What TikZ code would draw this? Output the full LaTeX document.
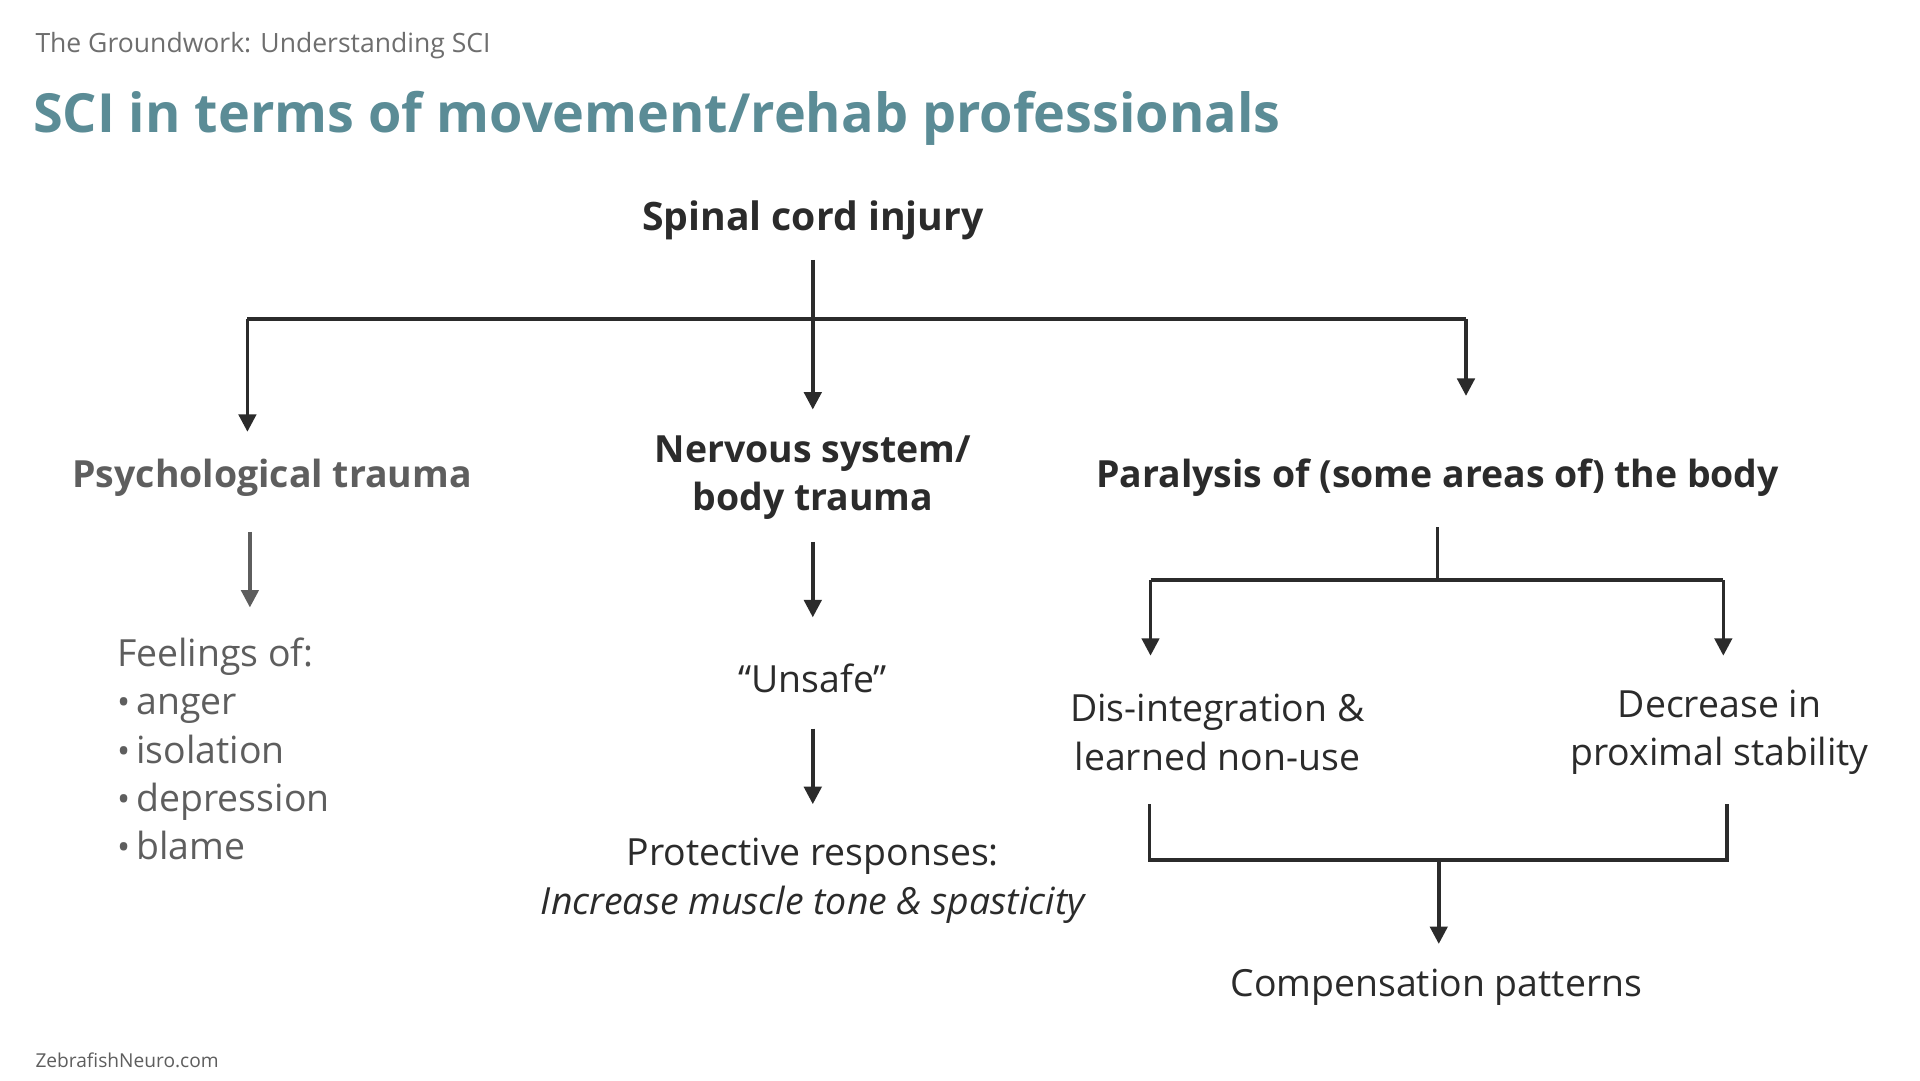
\documentclass[tikz,border=0pt]{standalone}
\usepackage{fontspec}
\setmainfont{Open Sans}
\usetikzlibrary{arrows.meta}
\definecolor{teal}{HTML}{5B8C96}
\definecolor{dark}{HTML}{2B2B2B}
\definecolor{mid}{HTML}{5E5E5E}
\begin{document}
\begin{tikzpicture}[x=0.01cm,y=-0.01cm,
  lbl/.style={inner sep=0pt,align=center,font=\fontsize{8.6pt}{11.1pt}\selectfont,text=dark},
  bold/.style={lbl,font=\fontsize{8.6pt}{11.1pt}\selectfont\bfseries},
  con/.style={draw=dark,line width=0.8pt},
  arr/.style={con,-{Triangle[length=4pt,width=4pt]}}]
\useasboundingbox[fill=white] (0,0) rectangle (1552,873);
\node[anchor=west,inner sep=0pt,text=mid!90,font=\fontsize{6.1pt}{7pt}\selectfont] (hdr) at (28,37) {The Groundwork: Understanding SCI};
\node[anchor=west,inner sep=0pt,text=teal,font=\fontsize{12.4pt}{15pt}\selectfont\bfseries] (title) at (26,96) {SCI in terms of movement/rehab professionals};
\node[bold,font=\fontsize{9pt}{11pt}\selectfont\bfseries] (sci) at (657,178) {Spinal cord injury};
\node[bold,text=mid] (psy) at (220,386) {Psychological trauma};
\node[lbl,text=mid,anchor=north west,align=left] (feel) at (94,515) {Feelings of:\\{\footnotesize\textbullet}\,anger\\{\footnotesize\textbullet}\,isolation\\{\footnotesize\textbullet}\,depression\\{\footnotesize\textbullet}\,blame};
\node[bold] (ner) at (657,386) {Nervous system/\\body trauma};
\node[lbl] (uns) at (657,548) {“Unsafe”};
\node[lbl] (pro) at (657,712) {Protective responses:\\\itshape Increase muscle tone \& spasticity};
\node[bold] (par) at (1162,386) {Paralysis of (some areas of) the body};
\node[lbl] (dis) at (984,592) {Dis-integration \&\\learned non-use};
\node[lbl] (dec) at (1390,592) {Decrease in\\proximal stability};
\node[lbl] (comp) at (1161,798) {Compensation patterns};
\node[anchor=west,inner sep=0pt,text=mid,font=\fontsize{4.4pt}{5pt}\selectfont] (foot) at (28,857) {ZebrafishNeuro.com};
% top tree
\coordinate (j0) at (657,258);
\coordinate (jl) at (200,258); \coordinate (jr) at (1185,258);
\coordinate (tl) at (200,349); \coordinate (tm) at (657,331); \coordinate (tr) at (1185,320);
\draw[arr] (sci.south |- 0,210) -- (tm);
\draw[arr] (jl) -- (tl);
\draw[arr] (jr) -- (tr);
\draw[con] (jl) -- (jr);
% left
\draw[arr,draw=mid] (202,430) coordinate (a1) -- (202,491) coordinate (a2);
% middle
\draw[arr] (657,438) coordinate (b1) -- (657,499) coordinate (b2);
\draw[arr] (657,589) coordinate (c1) -- (657,650) coordinate (c2);
% right
\coordinate (p1) at (1162,426); \coordinate (p2) at (1162,469);
\coordinate (ql) at (930,469); \coordinate (qr) at (1393,469);
\draw[con] (p1) -- (p2);
\draw[con] (ql) -- (qr);
\draw[arr] (ql) -- (930,530);
\draw[arr] (qr) -- (1393,530);
\coordinate (bl) at (929,650); \coordinate (br) at (1396,650);
\draw[con] (bl) -- (929,695) -- (1396,695) -- (br);
\draw[arr] (1163,695) -- (1163,763);
\end{tikzpicture}
\end{document}
